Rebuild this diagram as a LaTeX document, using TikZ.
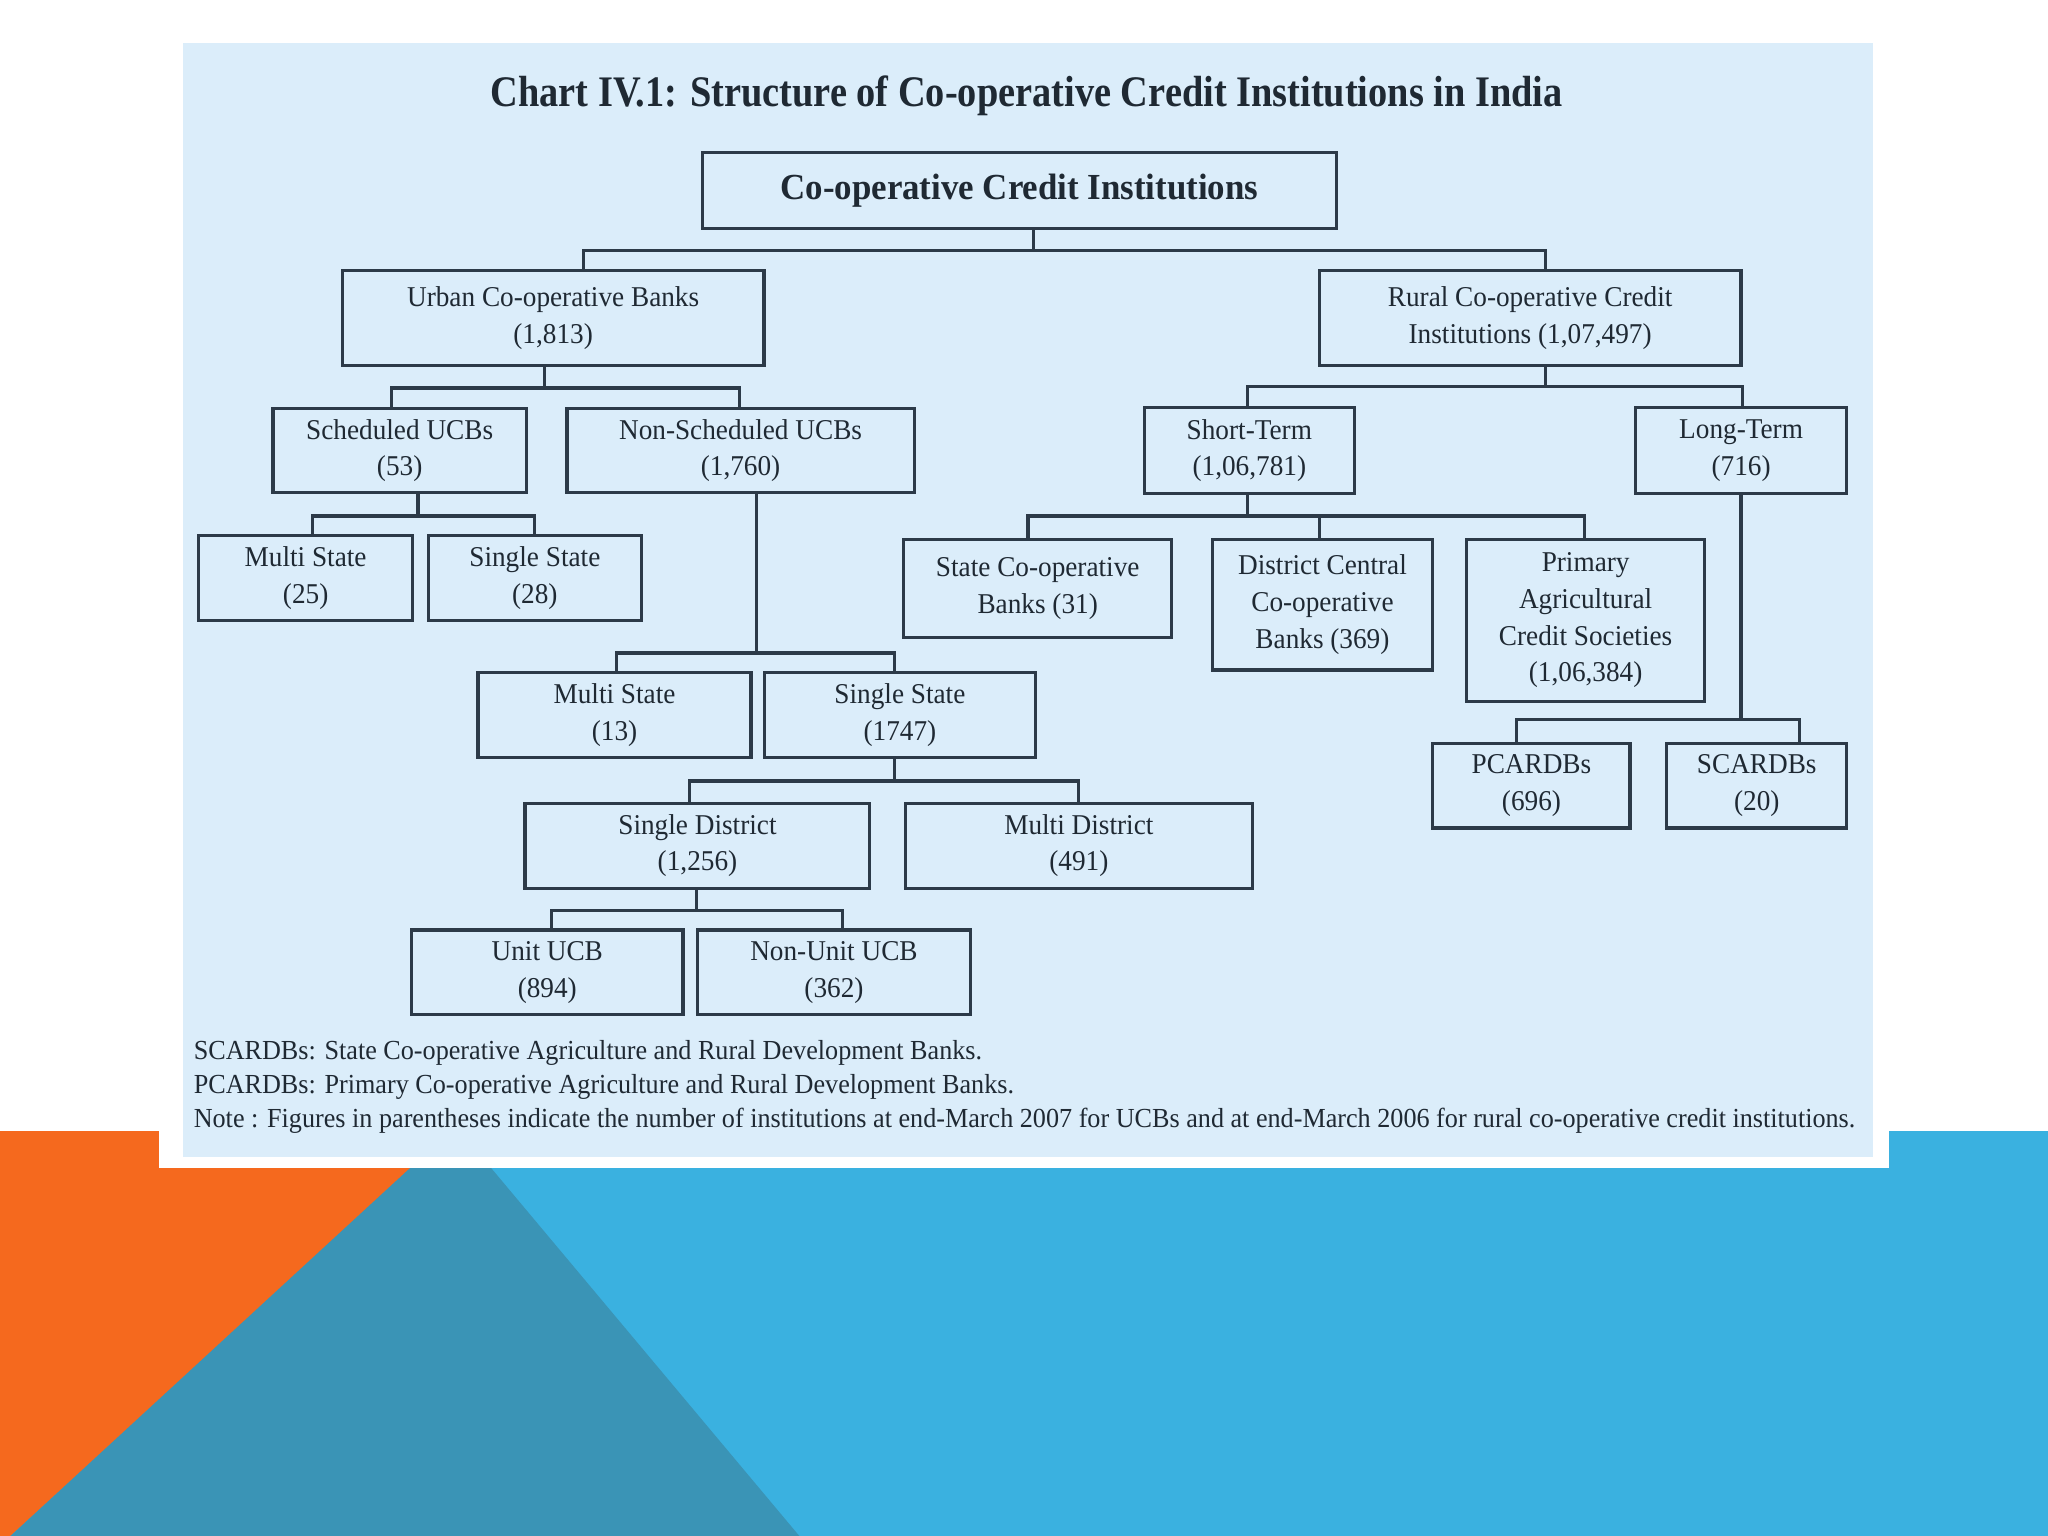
\documentclass[tikz,border=0pt]{standalone}
\usepackage{fontspec}
\setmainfont[FakeStretch=0.95]{Liberation Serif}
\newfontfamily\titlefont[FakeStretch=0.88]{Liberation Serif}
\newfontfamily\rootfont[FakeStretch=0.95]{Liberation Serif}
\newfontfamily\notefont[FakeStretch=0.95]{Liberation Serif}
\definecolor{panel}{HTML}{DBEDFA}
\definecolor{linec}{HTML}{2C3A48}
\definecolor{txt}{HTML}{1F2933}
\definecolor{orng}{HTML}{F5691E}
\definecolor{teal}{HTML}{3A94B6}
\definecolor{sky}{HTML}{3AB1E0}
\tikzset{
  box/.style={draw=linec, line width=1.4pt, fill=panel, align=center, inner sep=0pt,
    text=txt, font=\fontsize{12.5}{16}\selectfont},
  conn/.style={draw=linec, line width=1.4pt, line cap=rect},
  note/.style={anchor=west, inner sep=0pt, text=txt, font=\notefont\fontsize{12}{14}\selectfont}
}
\begin{document}
\begin{tikzpicture}[x=0.02cm, y=-0.02cm]
\useasboundingbox (0,0) rectangle (1568,1176);
% background
\fill[white] (0,0) rectangle (1568,1176);
\fill[sky] (0,866) rectangle (1568,1176);
\fill[orng] (0,866) -- (347,866) -- (8,1176) -- (0,1176) -- cycle;
\fill[teal] (349,862) -- (612,1176) -- (8,1176) -- cycle;
% card
\fill[white] (122,0) rectangle (1446,894);
\fill[panel] (140,33) rectangle (1434,886);

% title
\node[text=txt, font=\titlefont\bfseries\fontsize{19}{22}\selectfont] (title) at (786,73)
  {Chart IV.1: Structure of Co-operative Credit Institutions in India};

% boxes
\node[box, minimum width=9.70cm, minimum height=1.16cm, font=\rootfont\bfseries\fontsize{16}{20}\selectfont] (root) at (780.5,146) {Co-operative Credit Institutions};
\node[box, minimum width=6.46cm, minimum height=1.46cm] (urban) at (423.5,243.5) {Urban Co-operative Banks\\(1,813)};
\node[box, minimum width=6.46cm, minimum height=1.46cm] (rural) at (1171.5,243.5) {Rural Co-operative Credit\\Institutions (1,07,497)};
\node[box, minimum width=3.88cm, minimum height=1.28cm] (sched) at (306,345) {Scheduled UCBs\\(53)};
\node[box, minimum width=5.32cm, minimum height=1.28cm] (nonsched) at (567,345) {Non-Scheduled UCBs\\(1,760)};
\node[box, minimum width=3.28cm, minimum height=1.30cm] (ms25) at (234,442.5) {Multi State\\(25)};
\node[box, minimum width=3.26cm, minimum height=1.30cm] (ss28) at (409.5,442.5) {Single State\\(28)};
\node[box, minimum width=4.18cm, minimum height=1.30cm] (ms13) at (470.5,547.5) {Multi State\\(13)};
\node[box, minimum width=4.16cm, minimum height=1.30cm] (ss1747) at (689,547.5) {Single State\\(1747)};
\node[box, minimum width=5.28cm, minimum height=1.30cm] (sdist) at (534,647.5) {Single District\\(1,256)};
\node[box, minimum width=5.32cm, minimum height=1.30cm] (mdist) at (826,647.5) {Multi District\\(491)};
\node[box, minimum width=4.16cm, minimum height=1.30cm] (unit) at (419,744.5) {Unit UCB\\(894)};
\node[box, minimum width=4.18cm, minimum height=1.30cm] (nonunit) at (638.5,744.5) {Non-Unit UCB\\(362)};
\node[box, minimum width=3.22cm, minimum height=1.32cm] (short) at (956.5,345) {Short-Term\\(1,06,781)};
\node[box, minimum width=3.24cm, minimum height=1.32cm] (long) at (1333,345) {Long-Term\\(716)};
\node[box, minimum width=4.10cm, minimum height=1.50cm] (scb) at (794.5,450.5) {State Co-operative\\Banks (31)};
\node[box, minimum width=3.38cm, minimum height=2.00cm] (dccb) at (1012.5,463) {District Central\\Co-operative\\Banks (369)};
\node[box, minimum width=3.64cm, minimum height=2.48cm] (pacs) at (1214,475) {Primary\\Agricultural\\Credit Societies\\(1,06,384)};
\node[box, minimum width=3.02cm, minimum height=1.30cm] (pcardb) at (1172.5,601.5) {PCARDBs\\(696)};
\node[box, minimum width=2.76cm, minimum height=1.30cm] (scardb) at (1345,601.5) {SCARDBs\\(20)};

% junction coordinates
\coordinate (j-root) at (791,192);
\coordinate (k-urban) at (447,192);
\coordinate (k-rural) at (1183,192);
\coordinate (j-urban) at (417,297);
\coordinate (k-sched) at (300,297);
\coordinate (k-nonsched) at (566,297);
\coordinate (j-rural) at (1183,296);
\coordinate (k-short) at (955,296);
\coordinate (k-long) at (1334,296);
\coordinate (j-sched) at (320,395);
\coordinate (k-ms25) at (239,395);
\coordinate (k-ss28) at (409,395);
\coordinate (j-nonsched) at (579,500);
\coordinate (k-ms13) at (472,500);
\coordinate (k-ss1747) at (685,500);
\coordinate (j-ss1747) at (685,598);
\coordinate (k-sdist) at (528,598);
\coordinate (k-mdist) at (826,598);
\coordinate (j-sdist) at (533,697);
\coordinate (k-unit) at (422,697);
\coordinate (k-nonunit) at (645,697);
\coordinate (j-short) at (955,395);
\coordinate (k-scb) at (787,395);
\coordinate (k-dccb) at (1010,395);
\coordinate (k-pacs) at (1213,395);
\coordinate (j-long) at (1333,551);
\coordinate (k-pcardb) at (1161,551);
\coordinate (k-scardb) at (1378,551);

% connectors
\draw[conn] (root.south -| j-root) -- (j-root);
\draw[conn] (k-urban) -- (k-rural);
\draw[conn] (k-urban) -- (urban.north -| k-urban);
\draw[conn] (k-rural) -- (rural.north -| k-rural);

\draw[conn] (urban.south -| j-urban) -- (j-urban);
\draw[conn] (k-sched) -- (k-nonsched);
\draw[conn] (k-sched) -- (sched.north -| k-sched);
\draw[conn] (k-nonsched) -- (nonsched.north -| k-nonsched);

\draw[conn] (rural.south -| j-rural) -- (j-rural);
\draw[conn] (k-short) -- (k-long);
\draw[conn] (k-short) -- (short.north -| k-short);
\draw[conn] (k-long) -- (long.north -| k-long);

\draw[conn] (sched.south -| j-sched) -- (j-sched);
\draw[conn] (k-ms25) -- (k-ss28);
\draw[conn] (k-ms25) -- (ms25.north -| k-ms25);
\draw[conn] (k-ss28) -- (ss28.north -| k-ss28);

\draw[conn] (nonsched.south -| j-nonsched) -- (j-nonsched);
\draw[conn] (k-ms13) -- (k-ss1747);
\draw[conn] (k-ms13) -- (ms13.north -| k-ms13);
\draw[conn] (k-ss1747) -- (ss1747.north -| k-ss1747);

\draw[conn] (ss1747.south -| j-ss1747) -- (j-ss1747);
\draw[conn] (k-sdist) -- (k-mdist);
\draw[conn] (k-sdist) -- (sdist.north -| k-sdist);
\draw[conn] (k-mdist) -- (mdist.north -| k-mdist);

\draw[conn] (sdist.south -| j-sdist) -- (j-sdist);
\draw[conn] (k-unit) -- (k-nonunit);
\draw[conn] (k-unit) -- (unit.north -| k-unit);
\draw[conn] (k-nonunit) -- (nonunit.north -| k-nonunit);

\draw[conn] (short.south -| j-short) -- (j-short);
\draw[conn] (k-scb) -- (k-pacs);
\draw[conn] (k-scb) -- (scb.north -| k-scb);
\draw[conn] (k-dccb) -- (dccb.north -| k-dccb);
\draw[conn] (k-pacs) -- (pacs.north -| k-pacs);

\draw[conn] (long.south -| j-long) -- (j-long);
\draw[conn] (k-pcardb) -- (k-scardb);
\draw[conn] (k-pcardb) -- (pcardb.north -| k-pcardb);
\draw[conn] (k-scardb) -- (scardb.north -| k-scardb);

% notes
\node[note] (n1) at (148,806) {SCARDBs: State Co-operative Agriculture and Rural Development Banks.};
\node[note] (n2) at (148,832) {PCARDBs: Primary Co-operative Agriculture and Rural Development Banks.};
\node[note] (n3) at (148,858) {Note : Figures in parentheses indicate the number of institutions at end-March 2007 for UCBs and at end-March 2006 for rural co-operative credit institutions.};
\end{tikzpicture}
\end{document}
